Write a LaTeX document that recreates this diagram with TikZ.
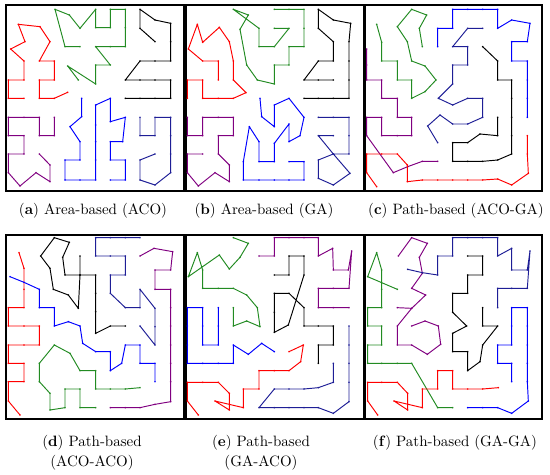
\documentclass[tikz,border=0pt]{standalone}
\usepackage{tikz}

\definecolor{tourred}{RGB}{255,0,0}
\definecolor{tourgreen}{RGB}{34,139,34}
\definecolor{tourblue}{RGB}{0,0,255}
\definecolor{tournavy}{RGB}{30,30,150}
\definecolor{tourpurple}{RGB}{128,0,128}

\tikzset{
  tour/.style={line width=0.65pt, line join=round, mark=*, mark size=0.75pt},
  panel/.style={line width=1.9pt, black},
  caption/.style={anchor=north, align=center, font=\fontsize{10.2}{13.5}\selectfont}
}

\begin{document}
\begin{tikzpicture}[x=0.68pt, y=-0.68pt]

\useasboundingbox (0,0) rectangle (550,475);

% frames
\draw[panel] (6,5) rectangle (184,191);
\draw[panel] (186,5) rectangle (364,191);
\draw[panel] (365,5) rectangle (542,191);
\draw[panel] (6,235) rectangle (184,419);
\draw[panel] (186,235) rectangle (364,419);
\draw[panel] (365,235) rectangle (542,419);

% (a) area-based ACO
\begin{scope}[shift={(0,0)}, scale=1/3]
\draw[tour, tourred] plot coordinates {(203,277) (163,295) (118,295) (118,240) (163,240) (163,183) (118,183) (150,125) (120,80) (55,73) (75,125) (32,147) (72,183) (72,240) (25,240) (25,295) (72,295)};
\draw[tour, tourgreen] plot coordinates {(240,140) (195,140) (165,28) (208,45) (240,85) (287,28) (287,83) (331,83) (331,28) (376,28) (376,83) (376,140) (331,140) (287,140) (331,195) (287,195) (287,252) (203,198) (235,240)};
\draw[tour, black] plot coordinates {(465,125) (420,85) (420,28) (465,60) (512,70) (512,125) (512,183) (465,183) (420,183) (376,240) (420,240) (465,240) (512,240) (512,295) (465,295) (420,295) (376,295)};
\draw[tour, tourpurple] plot coordinates {(163,352) (163,407) (118,407) (118,352) (72,352) (25,352) (25,407) (72,407) (72,462) (25,462) (25,518) (60,558) (108,518) (150,545) (150,495) (118,462)};
\draw[tour, tourblue] plot coordinates {(245,295) (245,350) (210,380) (240,425) (240,480) (195,480) (195,540) (240,540) (287,540) (287,480) (287,425) (287,375) (287,315) (331,295) (331,365) (376,352) (368,425) (331,425) (331,480) (376,480) (376,540) (331,540)};
\draw[tour, tournavy] plot coordinates {(420,352) (420,407) (465,407) (465,352) (512,352) (512,407) (512,462) (512,518) (465,555) (420,540) (420,480) (465,462)};
\end{scope}

% (b) area-based GA
\begin{scope}[shift={(180,0)}, scale=1/3]
\draw[tour, tourred] plot coordinates {(115,240) (115,183) (68,183) (25,147) (52,73) (68,127) (118,82) (148,125) (160,183) (160,240) (198,278) (160,295) (115,295) (68,295) (68,240) (22,240) (22,295)};
\draw[tour, tourgreen] plot coordinates {(283,85) (327,85) (283,140) (237,140) (237,85) (160,28) (205,45) (180,88) (200,195) (232,240) (283,252) (283,195) (327,195) (327,140) (372,140) (372,85) (372,28) (327,28) (283,28)};
\draw[tour, black] plot coordinates {(460,240) (415,240) (372,240) (415,183) (460,183) (460,125) (415,85) (415,28) (460,60) (512,70) (507,125) (507,183) (507,240) (507,295) (460,295) (415,295) (372,295)};
\draw[tour, tourpurple] plot coordinates {(22,352) (22,407) (68,407) (68,352) (115,352) (160,352) (160,407) (115,407) (115,462) (148,495) (148,545) (105,518) (55,558) (22,518) (22,462) (68,462)};
\draw[tour, tourblue] plot coordinates {(240,295) (245,350) (283,380) (283,315) (327,295) (372,352) (360,407) (327,425) (327,372) (283,430) (283,485) (237,485) (237,425) (208,380) (190,485) (190,540) (237,540) (283,540) (327,540) (372,540) (372,485) (327,485)};
\draw[tour, tournavy] plot coordinates {(460,407) (415,407) (460,462) (510,520) (460,555) (415,535) (415,480) (460,462) (507,462) (507,407) (507,352) (460,352) (415,352)};
\end{scope}

% (c) path-based ACO-GA
\begin{scope}[shift={(365,0)}, scale=1/3]
\draw[tour, tourgreen] plot coordinates {(35,73) (50,127) (50,183) (97,183) (97,240) (140,240) (140,295) (180,275) (213,240) (180,198) (140,183) (127,125) (97,80) (140,28) (185,45) (163,85) (172,140)};
\draw[tour, tourblue] plot coordinates {(218,140) (218,85) (263,85) (263,28) (308,28) (353,28) (398,28) (398,85) (440,60) (495,70) (487,125) (440,125) (440,183) (487,183) (487,240) (487,295) (487,352)};
\draw[tour, tournavy] plot coordinates {(353,85) (308,85) (263,140) (308,140) (308,195) (263,195) (263,252) (220,295) (263,315) (308,295) (353,295) (353,352) (308,372) (263,372) (225,345) (188,378) (218,428)};
\draw[tour, black] plot coordinates {(353,140) (398,183) (398,240) (440,240) (440,295) (440,352) (440,407) (440,462) (398,480) (353,484) (308,484) (263,484) (263,428) (308,428) (345,402) (398,407) (398,352)};
\draw[tour, tourpurple] plot coordinates {(5,147) (5,195) (5,240) (50,240) (50,295) (97,295) (97,352) (140,352) (140,407) (97,407) (50,407) (50,352) (5,352) (5,407) (85,518) (128,500) (172,484) (218,484)};
\draw[tour, tourred] plot coordinates {(35,560) (5,518) (5,462) (50,462) (97,462) (127,495) (127,545) (172,540) (218,540) (263,540) (308,540) (353,540) (398,537) (440,555) (490,520) (487,462) (487,407)};
\end{scope}

% (d) path-based ACO-ACO
\begin{scope}[shift={(0,225)}, scale=1/3]
\draw[tour, tourred] plot coordinates {(57,83) (72,130) (72,193) (72,248) (25,248) (25,303) (72,303) (118,303) (118,360) (72,360) (25,360) (25,415) (72,415) (72,470) (25,470) (25,528) (60,570)};
\draw[tour, black] plot coordinates {(240,93) (240,150) (235,250) (205,210) (160,193) (150,130) (122,93) (163,38) (208,52) (188,97) (195,150) (240,150) (287,150) (287,205) (287,260) (287,325) (331,303) (376,303)};
\draw[tour, tournavy] plot coordinates {(420,38) (376,38) (331,38) (287,38) (287,93) (331,93) (376,93) (376,150) (331,150) (331,205) (376,248) (420,248) (420,193) (465,250) (465,305) (465,360) (420,303)};
\draw[tour, tourpurple] plot coordinates {(420,93) (462,70) (518,80) (512,135) (465,135) (465,193) (512,193) (512,248) (512,303) (512,360) (512,415) (512,470) (512,530) (465,538) (420,548) (376,548) (331,548)};
\draw[tour, tourblue] plot coordinates {(30,155) (72,172) (118,193) (118,248) (163,248) (163,303) (205,290) (240,303) (248,355) (287,380) (331,380) (331,437) (365,415) (376,360) (420,360) (420,415) (465,415) (465,470)};
\draw[tour, tourgreen] plot coordinates {(420,488) (376,492) (331,492) (287,492) (287,437) (240,437) (210,385) (163,360) (118,415) (118,470) (150,505) (150,555) (195,548) (195,492) (240,492) (240,548) (287,548)};
\end{scope}

% (e) path-based GA-ACO
\begin{scope}[shift={(180,225)}, scale=1/3]
\draw[tour, tourgreen] plot coordinates {(160,38) (205,55) (180,97) (148,132) (118,90) (25,155) (52,83) (68,135) (68,190) (115,190) (160,190) (200,210) (232,248) (240,305) (200,288) (160,303) (160,248)};
\draw[tour, tourpurple] plot coordinates {(237,93) (283,93) (283,38) (327,38) (372,38) (415,38) (415,93) (458,70) (460,135) (505,135) (515,78) (507,190) (460,190) (415,190) (415,248) (460,248) (507,248)};
\draw[tour, black] plot coordinates {(283,150) (327,150) (327,93) (372,93) (372,150) (325,300) (283,322) (283,262) (283,205) (327,205) (372,248) (372,303) (415,303) (460,303) (460,360) (415,360) (415,415)};
\draw[tour, tourblue] plot coordinates {(115,248) (115,303) (115,360) (68,360) (68,303) (68,248) (22,248) (22,303) (22,360) (22,415) (68,415) (115,415) (160,415) (160,360) (205,388) (245,355) (283,380)};
\draw[tour, tournavy] plot coordinates {(460,415) (460,472) (415,488) (372,492) (327,492) (283,492) (237,548) (283,548) (327,548) (372,548) (415,548) (460,565) (507,530) (507,472) (507,415) (507,360) (507,303)};
\draw[tour, tourred] plot coordinates {(327,380) (370,360) (362,410) (327,437) (283,437) (237,437) (237,492) (190,492) (190,548) (105,528) (148,555) (148,505) (115,472) (68,472) (22,472) (22,528) (55,570)};
\end{scope}

% (f) path-based GA-GA
\begin{scope}[shift={(365,225)}, scale=1/3]
\draw[tour, tourgreen] plot coordinates {(97,193) (8,155) (35,83) (50,135) (50,193) (50,248) (8,248) (8,303) (50,303) (50,360) (8,360) (8,415) (50,415) (97,415) (140,415) (218,548) (263,548)};
\draw[tour, tourpurple] plot coordinates {(97,248) (140,250) (182,210) (140,190) (172,145) (163,97) (187,55) (140,38) (100,93)};
\draw[tour, tourpurple] plot coordinates {(140,250) (97,303) (97,360) (140,360) (187,388) (227,358) (220,303) (180,288) (140,303)};
\draw[tour, tournavy] plot coordinates {(128,133) (172,143) (218,150) (218,93) (263,93) (263,38) (308,38) (353,38) (398,38) (398,93) (440,70) (440,135) (487,135) (495,78) (487,190) (440,190) (398,190) (398,248)};
\draw[tour, black] plot coordinates {(308,93) (353,93) (353,150) (308,150) (308,205) (263,205) (263,262) (305,303) (263,325) (263,380) (308,380) (308,437) (345,410) (353,360) (398,303) (353,303) (353,248)};
\draw[tour, tourblue] plot coordinates {(440,470) (440,415) (398,415) (398,360) (440,360) (440,303) (440,248) (487,248) (487,303) (487,360) (487,415) (487,470) (490,528) (440,565) (398,548) (353,548) (308,548)};
\draw[tour, tourred] plot coordinates {(38,570) (8,528) (8,472) (50,472) (97,472) (128,505) (128,555) (87,528) (172,548) (172,492) (218,492) (218,437) (263,437) (263,492) (308,492) (353,492) (400,488)};
\end{scope}

% captions
\node[caption] (capa) at (93,198) {(\textbf{a}) Area-based (ACO)};
\node[caption] (capb) at (264,198) {(\textbf{b}) Area-based (GA)};
\node[caption] (capc) at (456,198) {(\textbf{c}) Path-based (ACO-GA)};
\node[caption] (capd) at (92,430) {(\textbf{d}) Path-based\\(ACO-ACO)};
\node[caption] (cape) at (261,430) {(\textbf{e}) Path-based\\(GA-ACO)};
\node[caption] (capf) at (455,430) {(\textbf{f}) Path-based (GA-GA)};

\end{tikzpicture}
\end{document}
